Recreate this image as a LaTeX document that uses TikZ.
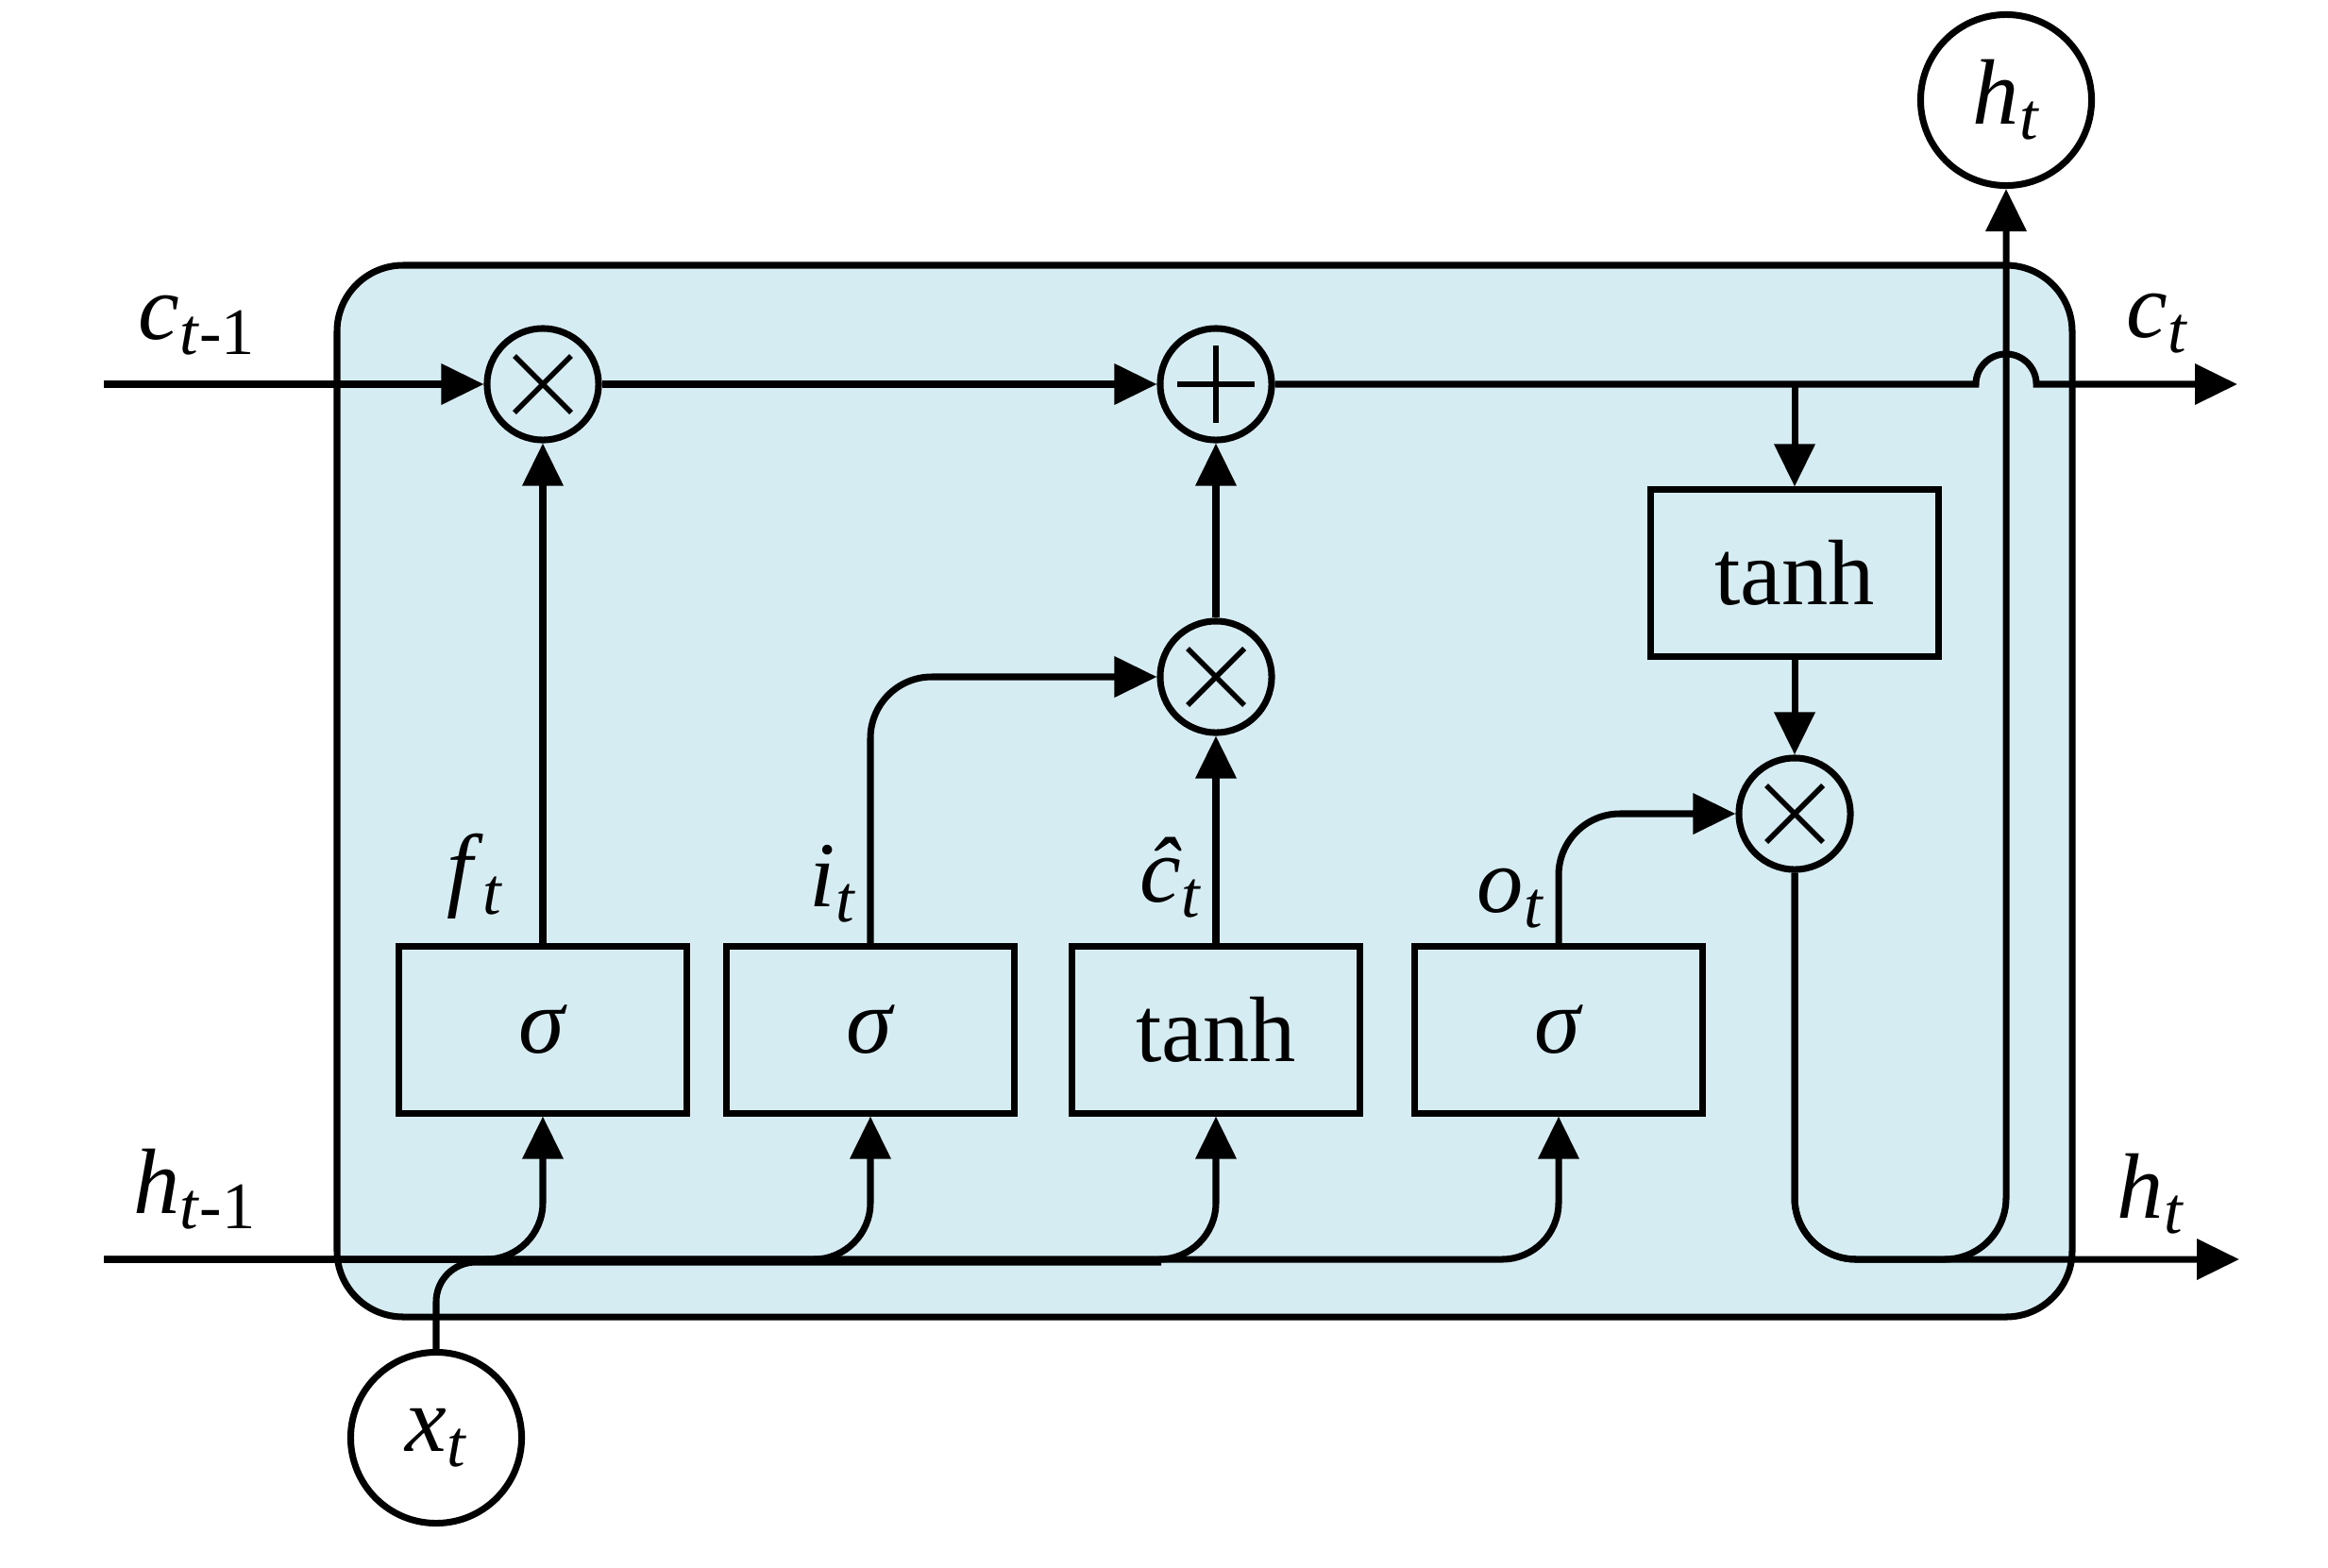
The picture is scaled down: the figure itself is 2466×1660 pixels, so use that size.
\documentclass[tikz,border=0pt]{standalone}
\usepackage{fontspec}
\setmainfont{Liberation Serif}
\usetikzlibrary{arrows.meta}
\definecolor{cellblue}{RGB}{213,236,242}
\newcommand{\lsub}[2]{\textit{#1}\raisebox{-0.35ex}{\fontsize{20}{22}\selectfont #2}}
\begin{document}
\begin{tikzpicture}[x=0.01cm,y=-0.01cm,
  wire/.style={line width=2pt},
  arr/.style={wire,-{Triangle[length=0.45cm,width=0.42cm]}},
  opc/.style={circle,draw,line width=2pt,minimum size=1.18cm,inner sep=0pt},
  otimes/.style={opc,path picture={\draw[line width=1.6pt] (path picture bounding box.center) +(-30,-30) -- +(30,30) +(-30,30) -- +(30,-30);}},
  oplus/.style={opc,path picture={\draw[line width=1.6pt] (path picture bounding box.center) +(-41,0) -- +(41,0) +(0,-41) -- +(0,41);}},
  iocirc/.style={circle,draw,line width=2pt,fill=white,minimum size=1.81cm,inner sep=0pt,font=\fontsize{28}{30}\selectfont},
  gate/.style={draw,line width=2pt,minimum width=3.05cm,minimum height=1.76cm,inner sep=0pt,font=\fontsize{28}{30}\selectfont},
  lab/.style={inner sep=0pt,font=\fontsize{28}{30}\selectfont},
]
\useasboundingbox (0,0) rectangle (2466,1660);
% cell
\draw[line width=2pt,fill=cellblue,rounded corners=0.7cm] (357,281) rectangle (2195,1395);
% nodes
\node[otimes] (m1) at (575,407) {};
\node[oplus]  (p1) at (1288,407) {};
\node[otimes] (m2) at (1288,717) {};
\node[otimes] (m3) at (1901,862) {};
\node[gate] (tc) at (1901,607) {tanh};
\node[gate] (s1) at (575,1091) {\textit{σ}};
\node[gate] (s2) at (922,1091) {\textit{σ}};
\node[gate] (t3) at (1288,1091) {tanh};
\node[gate] (s4) at (1651,1091) {\textit{σ}};
\node[iocirc] (ht) at (2125,106) {\lsub{h}{\textit{t}}};
\node[iocirc] (xt) at (462,1523) {\lsub{x}{\textit{t}}};
\coordinate (cin) at (110,407);
\coordinate (cout) at (2370,407);
\coordinate (hin) at (110,1334);
\coordinate (hout) at (2372,1334);
\coordinate (br) at (1901,407);
% labels
\node[lab] (lc0) at (208,345) {\lsub{c}{\textit{t}-1}};
\node[lab] (lc1) at (2285,343) {\lsub{c}{\textit{t}}};
\node[lab] (lh0) at (206,1260) {\lsub{h}{\textit{t}-1}};
\node[lab] (lh1) at (2278,1265) {\lsub{h}{\textit{t}}};
\node[lab] (lf) at (503,928) {\lsub{f}{\textit{t}}};
\node[lab] (li) at (882,936) {\lsub{i}{\textit{t}}};
\node[lab] (lch) at (1240,930) {\lsub{\^{c}}{\textit{t}}};
\node[lab] (lo) at (1600,952) {\lsub{o}{\textit{t}}};
% cell state line
\draw[arr] (cin) -- (m1);
\draw[arr] (m1) -- (p1);
\draw[arr] (p1.east) -- (2093,407) arc[start angle=180,end angle=0,radius=0.32cm] -- (cout);
\draw[arr] (br) -- (tc.north);
\draw[arr] (tc.south) -- (m3.north);
% gates up
\draw[arr] (s1.north) -- (m1.south);
\draw[arr,rounded corners=0.65cm] (s2.north) |- (m2.west);
\draw[arr] (t3.north) -- (m2.south);
\draw[arr] (m2.north) -- (p1.south);
\draw[arr,rounded corners=0.65cm] (s4.north) |- (m3.west);
% hidden output
\draw[arr,rounded corners=0.65cm] (m3.south) |- (ht.south |- hin) -- (ht.south);
\draw[arr,rounded corners=0.65cm] (m3.south) |- (hout);
% input bus
\draw[wire,rounded corners=0.42cm] (xt.north) |- (1230,1337);
\draw[arr,rounded corners=0.6cm] (hin) -| (s1.south);
\draw[arr,rounded corners=0.6cm] (hin) -| (s2.south);
\draw[arr,rounded corners=0.6cm] (hin) -| (t3.south);
\draw[arr,rounded corners=0.6cm] (hin) -| (s4.south);
\end{tikzpicture}
\end{document}
